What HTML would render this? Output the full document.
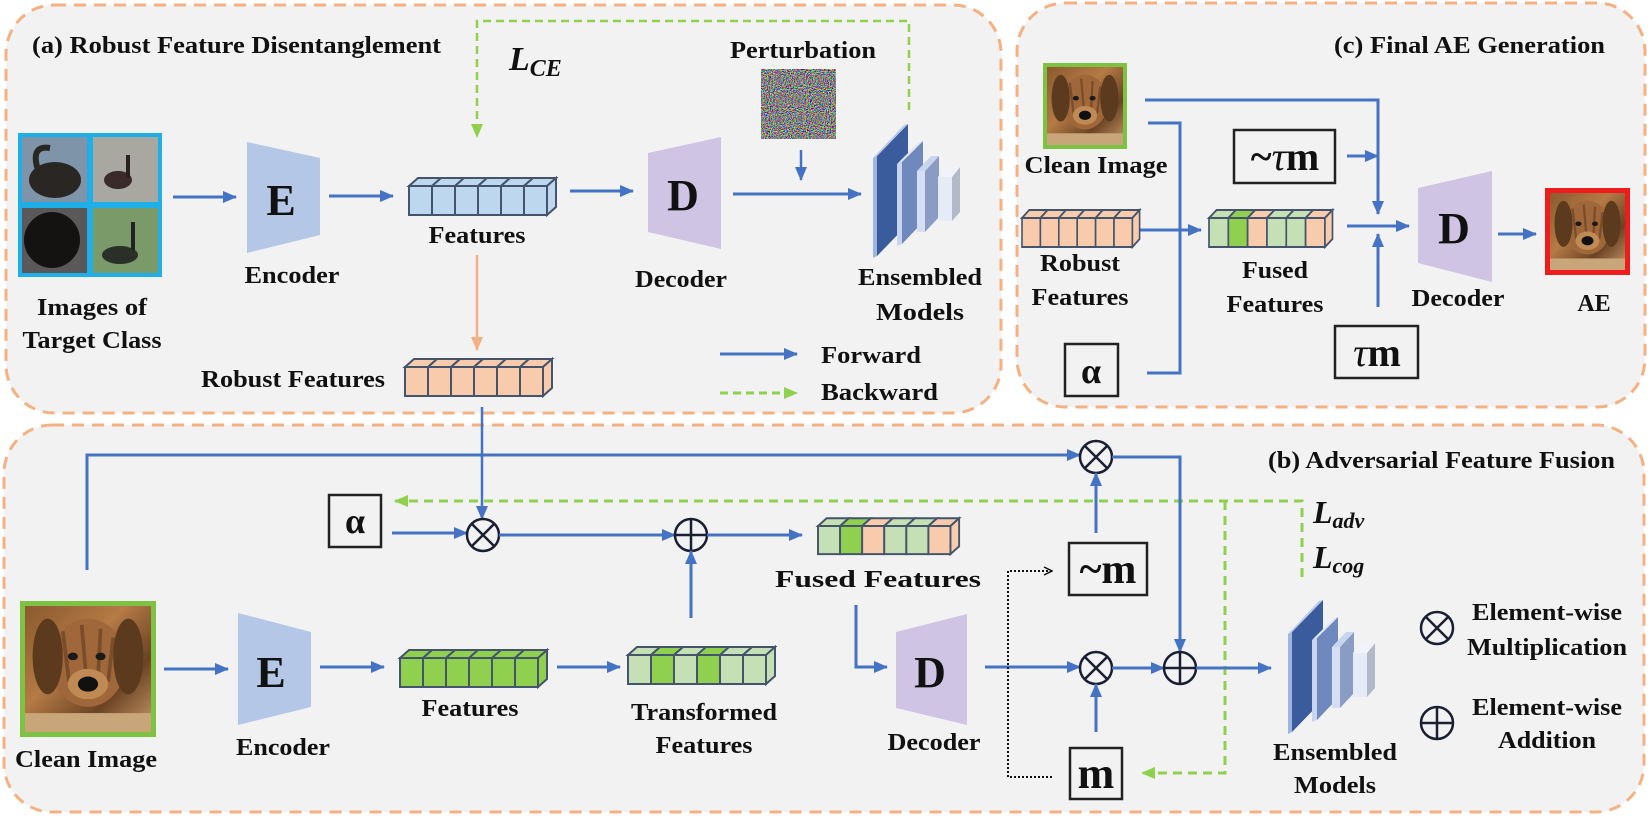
<!DOCTYPE html>
<html><head><meta charset="utf-8"><style>
html,body{margin:0;padding:0;background:#fff;}
svg{display:block;}
text{font-family:"Liberation Serif","Times New Roman",serif;font-weight:bold;fill:#111;}
</style></head><body>
<svg width="1651" height="818" viewBox="0 0 1651 818" xmlns="http://www.w3.org/2000/svg">
<defs>
<marker id="ab" markerUnits="userSpaceOnUse" markerWidth="14" markerHeight="12" refX="13" refY="6" orient="auto"><path d="M0,0 L14,6 L0,12 z" fill="#4472c4"/></marker>
<marker id="ag" markerUnits="userSpaceOnUse" markerWidth="14" markerHeight="12" refX="13" refY="6" orient="auto"><path d="M0,0 L14,6 L0,12 z" fill="#8fd14f"/></marker>
<marker id="ap" markerUnits="userSpaceOnUse" markerWidth="14" markerHeight="12" refX="13" refY="6" orient="auto"><path d="M0,0 L14,6 L0,12 z" fill="#f4b183"/></marker>
<marker id="ak" markerUnits="userSpaceOnUse" markerWidth="10" markerHeight="10" refX="9" refY="5" orient="auto"><path d="M1,1 L9,5 L1,9" fill="none" stroke="#111" stroke-width="1.5"/></marker>
<g id="cell" stroke="#44546a" stroke-width="2"><rect x="0" y="0" width="23" height="29"/><polygon points="0,0 9,-8 32,-8 23,0"/></g>
<polygon id="side" points="0,0 9,-8 9,21 0,29" stroke="#44546a" stroke-width="2"/>
<g id="models">
<polygon points="1292,632 1323,600 1323,700 1292,732" fill="#3b5c9c"/>
<polygon points="1288,634 1292,632 1292,732 1288,734" fill="#9fb4de"/>
<polygon points="1288,634 1319,601 1323,600 1292,632" fill="#b9c9ea"/>
<polygon points="1317,638 1338,617 1338,698 1317,720" fill="#6f88bd"/>
<polygon points="1312,640 1317,638 1317,720 1312,722" fill="#c9d5ee"/>
<polygon points="1312,640 1333,619 1338,617 1317,638" fill="#dfe6f5"/>
<rect x="1332" y="647" width="8" height="61" fill="#d5def2"/>
<polygon points="1340,647 1354,632 1354,693 1340,708" fill="#8a9cc4"/>
<polygon points="1332,647 1346,632 1354,632 1340,647" fill="#c9d5ee"/>
<rect x="1353" y="653" width="14" height="44" fill="#e6ecf7"/>
<polygon points="1367,653 1375,643 1375,688 1367,697" fill="#b2bac9"/>
<polygon points="1353,653 1361,643 1375,643 1367,653" fill="#f0f3fa"/>
</g>
<g id="otimes"><circle r="16" fill="none" stroke="#1b1f33" stroke-width="2.5"/><path d="M-11.3,-11.3 L11.3,11.3 M11.3,-11.3 L-11.3,11.3" stroke="#1b1f33" stroke-width="2.5"/></g>
<g id="oplus"><circle r="16" fill="none" stroke="#1b1f33" stroke-width="2.5"/><path d="M-16,0 H16 M0,-16 V16" stroke="#1b1f33" stroke-width="2.5"/></g>
<linearGradient id="dog" x1="0" y1="0" x2="1" y2="1"><stop offset="0" stop-color="#8a5a2e"/><stop offset="0.4" stop-color="#b57a45"/><stop offset="0.7" stop-color="#6b4324"/><stop offset="1" stop-color="#c79a6a"/></linearGradient>
<g id="dogimg">
<rect x="0" y="0" width="100" height="100" fill="url(#dog)"/>
<ellipse cx="50" cy="45" rx="30" ry="35" fill="#a0683a"/>
<ellipse cx="18" cy="40" rx="12" ry="30" fill="#5c3a1e"/>
<ellipse cx="82" cy="40" rx="12" ry="30" fill="#5c3a1e"/>
<path d="M30,20 L35,60 M45,15 L48,50 M60,18 L58,55 M70,25 L66,60" stroke="#6b4324" stroke-width="3" opacity="0.7"/>
<ellipse cx="50" cy="62" rx="16" ry="12" fill="#c08a55"/>
<ellipse cx="38" cy="40" rx="4" ry="3" fill="#1a1a1a"/>
<ellipse cx="60" cy="40" rx="4" ry="3" fill="#1a1a1a"/>
<ellipse cx="50" cy="62" rx="8" ry="6" fill="#111"/>
<rect x="0" y="85" width="100" height="15" fill="#c9a57a"/>
</g>
<filter id="noise" x="0" y="0" width="100%" height="100%"><feTurbulence type="fractalNoise" baseFrequency="0.95" numOctaves="1" seed="3"/><feColorMatrix type="matrix" values="4 -1 -1 0 -0.7  -1 4 -1 0 -0.7  -1 -1 4 0 -0.7  0 0 0 0 1"/></filter>
</defs>

<!-- panels -->
<rect x="6" y="5" width="995" height="408" rx="48" fill="#f2f2f2" stroke="#f4b183" stroke-width="3" stroke-dasharray="12 8"/>
<rect x="1017" y="3" width="628" height="404" rx="48" fill="#f2f2f2" stroke="#f4b183" stroke-width="3" stroke-dasharray="12 8"/>
<rect x="4" y="425" width="1640" height="387" rx="48" fill="#f2f2f2" stroke="#f4b183" stroke-width="3" stroke-dasharray="12 8"/>

<!-- ============ Panel A ============ -->
<text x="32" y="53" font-size="24" textLength="409" lengthAdjust="spacingAndGlyphs">(a) Robust Feature Disentanglement</text>
<text x="509" y="70" font-size="34" font-style="italic" font-weight="normal">L<tspan font-size="24" dy="6">CE</tspan></text>
<path d="M909,110 V21 H477 V137" fill="none" stroke="#8fd14f" stroke-width="2.5" stroke-dasharray="8 5" marker-end="url(#ag)"/>
<text x="730" y="58" font-size="24" textLength="146" lengthAdjust="spacingAndGlyphs">Perturbation</text>
<rect x="761" y="69" width="75" height="70" filter="url(#noise)"/>
<path d="M801,150 V180" stroke="#4472c4" stroke-width="2.5" marker-end="url(#ab)"/>

<!-- swans -->
<rect x="18" y="133" width="144" height="144" fill="#1eaee8"/>
<rect x="22" y="137" width="65" height="65" fill="#7e94a8"/>
<ellipse cx="55" cy="180" rx="26" ry="18" fill="#2a2624"/>
<path d="M38,170 Q30,145 50,148" stroke="#2a2624" stroke-width="6" fill="none"/>
<rect x="93" y="137" width="65" height="65" fill="#a8a8a0"/>
<ellipse cx="118" cy="180" rx="14" ry="9" fill="#3a2a2a"/>
<path d="M128,178 V155" stroke="#2a2020" stroke-width="4"/>
<rect x="22" y="208" width="65" height="65" fill="#5a5858"/>
<ellipse cx="52" cy="240" rx="28" ry="28" fill="#151212"/>
<rect x="93" y="208" width="65" height="65" fill="#7a9a6a"/>
<ellipse cx="120" cy="255" rx="18" ry="9" fill="#2a3028"/>
<path d="M133,250 V222" stroke="#222" stroke-width="4"/>

<path d="M173,197 H236" stroke="#4472c4" stroke-width="3" marker-end="url(#ab)"/>
<polygon points="247,142 320,158 320,235 247,253" fill="#b4c7e7"/>
<text x="281" y="215" font-size="44" text-anchor="middle">E</text>
<text x="292" y="283" font-size="24" text-anchor="middle" textLength="95" lengthAdjust="spacingAndGlyphs">Encoder</text>
<path d="M329,196 H393" stroke="#4472c4" stroke-width="3" marker-end="url(#ab)"/>

<g transform="translate(409,186)" fill="#bdd7ee">
<use href="#cell" x="0"/><use href="#cell" x="23"/><use href="#cell" x="46"/><use href="#cell" x="69"/><use href="#cell" x="92"/><use href="#cell" x="115"/><use href="#side" x="138"/>
</g>
<text x="477" y="243" font-size="24" text-anchor="middle" textLength="97" lengthAdjust="spacingAndGlyphs">Features</text>
<path d="M477,255 V350" stroke="#f4b183" stroke-width="2.5" marker-end="url(#ap)"/>
<path d="M570,191 H633" stroke="#4472c4" stroke-width="3" marker-end="url(#ab)"/>
<polygon points="648,153 721,137 721,249 648,232" fill="#d0c4e4"/>
<text x="683" y="210" font-size="44" text-anchor="middle">D</text>
<text x="681" y="287" font-size="24" text-anchor="middle" textLength="92" lengthAdjust="spacingAndGlyphs">Decoder</text>
<path d="M733,194 H861" stroke="#4472c4" stroke-width="3" marker-end="url(#ab)"/>
<use href="#models" transform="translate(-415,-476)"/>
<text x="920" y="285" font-size="24" text-anchor="middle" textLength="124" lengthAdjust="spacingAndGlyphs">Ensembled</text>
<text x="920" y="320" font-size="24" text-anchor="middle" textLength="88" lengthAdjust="spacingAndGlyphs">Models</text>
<text x="92" y="315" font-size="24" text-anchor="middle" textLength="110" lengthAdjust="spacingAndGlyphs">Images of</text>
<text x="92" y="348" font-size="24" text-anchor="middle" textLength="139" lengthAdjust="spacingAndGlyphs">Target Class</text>
<text x="201" y="387" font-size="24" textLength="184" lengthAdjust="spacingAndGlyphs">Robust Features</text>
<g transform="translate(405,367)" fill="#f8cbad">
<use href="#cell" x="0"/><use href="#cell" x="23"/><use href="#cell" x="46"/><use href="#cell" x="69"/><use href="#cell" x="92"/><use href="#cell" x="115"/><use href="#side" x="138"/>
</g>
<path d="M720,354 H797" stroke="#4472c4" stroke-width="3" marker-end="url(#ab)"/>
<text x="821" y="363" font-size="24" textLength="100" lengthAdjust="spacingAndGlyphs">Forward</text>
<path d="M720,393 H797" stroke="#8fd14f" stroke-width="3" stroke-dasharray="8 5" marker-end="url(#ag)"/>
<text x="821" y="400" font-size="24" textLength="117" lengthAdjust="spacingAndGlyphs">Backward</text>

<!-- ============ Panel C ============ -->
<text x="1334" y="53" font-size="24" textLength="271" lengthAdjust="spacingAndGlyphs">(c) Final AE Generation</text>
<rect x="1043" y="63" width="84" height="86" fill="#7dc242"/>
<use href="#dogimg" transform="translate(1047,67) scale(0.76,0.78)"/>
<text x="1096" y="173" font-size="24" text-anchor="middle" textLength="143" lengthAdjust="spacingAndGlyphs">Clean Image</text>
<path d="M1145,100 H1378 V214" fill="none" stroke="#4472c4" stroke-width="3" marker-end="url(#ab)"/>
<path d="M1148,123 H1180 V373 H1147" fill="none" stroke="#4472c4" stroke-width="3"/>
<path d="M1136,230 H1201" stroke="#4472c4" stroke-width="3" marker-end="url(#ab)"/>
<rect x="1234" y="130" width="101" height="53" fill="none" stroke="#222" stroke-width="2.5"/>
<text x="1285" y="170" font-size="40" text-anchor="middle">~<tspan font-style="italic" font-weight="normal">τ</tspan>m</text>
<path d="M1347,156 H1378" stroke="#4472c4" stroke-width="3" marker-end="url(#ab)"/>
<g transform="translate(1022,218) scale(0.8,1)" fill="#f8cbad">
<use href="#cell" x="0"/><use href="#cell" x="23"/><use href="#cell" x="46"/><use href="#cell" x="69"/><use href="#cell" x="92"/><use href="#cell" x="115"/><use href="#side" x="138"/>
</g>
<text x="1080" y="271" font-size="24" text-anchor="middle" textLength="80" lengthAdjust="spacingAndGlyphs">Robust</text>
<text x="1080" y="305" font-size="24" text-anchor="middle" textLength="97" lengthAdjust="spacingAndGlyphs">Features</text>
<g transform="translate(1209,218) scale(0.84,1)">
<use href="#cell" x="0" fill="#c5e0b4"/><use href="#cell" x="23" fill="#8fd14f"/><use href="#cell" x="46" fill="#f8cbad"/><use href="#cell" x="69" fill="#c5e0b4"/><use href="#cell" x="92" fill="#c5e0b4"/><use href="#cell" x="115" fill="#f8cbad"/><use href="#side" x="138" fill="#f8cbad"/>
</g>
<text x="1275" y="278" font-size="24" text-anchor="middle" textLength="66" lengthAdjust="spacingAndGlyphs">Fused</text>
<text x="1275" y="312" font-size="24" text-anchor="middle" textLength="97" lengthAdjust="spacingAndGlyphs">Features</text>
<path d="M1347,226 H1409" stroke="#4472c4" stroke-width="3" marker-end="url(#ab)"/>
<path d="M1378,307 V234" stroke="#4472c4" stroke-width="3" marker-end="url(#ab)"/>
<polygon points="1418,188 1492,171 1492,282 1418,263" fill="#d0c4e4"/>
<text x="1454" y="243" font-size="44" text-anchor="middle">D</text>
<text x="1458" y="306" font-size="24" text-anchor="middle" textLength="93" lengthAdjust="spacingAndGlyphs">Decoder</text>
<path d="M1498,234 H1536" stroke="#4472c4" stroke-width="3" marker-end="url(#ab)"/>
<rect x="1545" y="188" width="85" height="87" fill="#ee1c1c"/>
<use href="#dogimg" transform="translate(1550,193) scale(0.75,0.77)"/>
<text x="1594" y="311" font-size="24" text-anchor="middle">AE</text>
<rect x="1335" y="326" width="83" height="52" fill="none" stroke="#222" stroke-width="2.5"/>
<text x="1377" y="366" font-size="40" text-anchor="middle"><tspan font-style="italic" font-weight="normal">τ</tspan>m</text>
<rect x="1065" y="344" width="53" height="52" fill="none" stroke="#222" stroke-width="2.5"/>
<text x="1091" y="383" font-size="36" font-weight="normal" text-anchor="middle">α</text>

<!-- ============ Panel B ============ -->
<text x="1268" y="468" font-size="24" textLength="347" lengthAdjust="spacingAndGlyphs">(b) Adversarial Feature Fusion</text>
<path d="M87,570 V455 H1080" fill="none" stroke="#4472c4" stroke-width="3" marker-end="url(#ab)"/>
<path d="M482,407 V519" stroke="#4472c4" stroke-width="2.5" marker-end="url(#ab)"/>
<path d="M1302,577 V501 H395" fill="none" stroke="#8fd14f" stroke-width="3" stroke-dasharray="9 6" marker-end="url(#ag)"/>
<path d="M1225,501 V773 H1142" fill="none" stroke="#8fd14f" stroke-width="3" stroke-dasharray="9 6" marker-end="url(#ag)"/>
<text x="1313" y="523" font-size="32" font-style="italic" font-weight="normal">L<tspan font-size="22" dy="5">adv</tspan></text>
<text x="1313" y="568" font-size="32" font-style="italic" font-weight="normal">L<tspan font-size="22" dy="5">cog</tspan></text>
<rect x="329" y="495" width="52" height="52" fill="none" stroke="#222" stroke-width="2.5"/>
<text x="355" y="533" font-size="36" font-weight="normal" text-anchor="middle">α</text>
<path d="M392,533 H467" stroke="#4472c4" stroke-width="3" marker-end="url(#ab)"/>
<use href="#otimes" x="483" y="535"/>
<path d="M499,535 H675" stroke="#4472c4" stroke-width="3" marker-end="url(#ab)"/>
<use href="#oplus" x="691" y="535"/>
<path d="M707,535 H802" stroke="#4472c4" stroke-width="3" marker-end="url(#ab)"/>
<path d="M691,618 V551" stroke="#4472c4" stroke-width="3" marker-end="url(#ab)"/>

<rect x="20" y="601" width="136" height="136" fill="#7dc242"/>
<use href="#dogimg" transform="translate(25,606) scale(1.26,1.26)"/>
<text x="86" y="767" font-size="24" text-anchor="middle" textLength="142" lengthAdjust="spacingAndGlyphs">Clean Image</text>
<path d="M164,669 H228" stroke="#4472c4" stroke-width="3" marker-end="url(#ab)"/>
<polygon points="238,613 311,632 311,707 238,725" fill="#b4c7e7"/>
<text x="271" y="687" font-size="44" text-anchor="middle">E</text>
<text x="283" y="755" font-size="24" text-anchor="middle" textLength="94" lengthAdjust="spacingAndGlyphs">Encoder</text>
<path d="M320,667 H384" stroke="#4472c4" stroke-width="3" marker-end="url(#ab)"/>
<g transform="translate(400,658)" fill="#8fd14f">
<use href="#cell" x="0"/><use href="#cell" x="23"/><use href="#cell" x="46"/><use href="#cell" x="69"/><use href="#cell" x="92"/><use href="#cell" x="115"/><use href="#side" x="138"/>
</g>
<text x="470" y="716" font-size="24" text-anchor="middle" textLength="97" lengthAdjust="spacingAndGlyphs">Features</text>
<path d="M557,667 H620" stroke="#4472c4" stroke-width="3" marker-end="url(#ab)"/>
<g transform="translate(628,655)">
<use href="#cell" x="0" fill="#c5e0b4"/><use href="#cell" x="23" fill="#8fd14f"/><use href="#cell" x="46" fill="#c5e0b4"/><use href="#cell" x="69" fill="#8fd14f"/><use href="#cell" x="92" fill="#c5e0b4"/><use href="#cell" x="115" fill="#c5e0b4"/><use href="#side" x="138" fill="#c5e0b4"/>
</g>
<text x="704" y="720" font-size="24" text-anchor="middle" textLength="146" lengthAdjust="spacingAndGlyphs">Transformed</text>
<text x="704" y="753" font-size="24" text-anchor="middle" textLength="97" lengthAdjust="spacingAndGlyphs">Features</text>

<g transform="translate(818,526) scale(0.96,0.97)">
<use href="#cell" x="0" fill="#c5e0b4"/><use href="#cell" x="23" fill="#8fd14f"/><use href="#cell" x="46" fill="#f8cbad"/><use href="#cell" x="69" fill="#c5e0b4"/><use href="#cell" x="92" fill="#c5e0b4"/><use href="#cell" x="115" fill="#f8cbad"/><use href="#side" x="138" fill="#f8cbad"/>
</g>
<text x="878" y="587" font-size="24" text-anchor="middle" textLength="206" lengthAdjust="spacingAndGlyphs">Fused Features</text>
<path d="M856,605 V667 H887" fill="none" stroke="#4472c4" stroke-width="3" marker-end="url(#ab)"/>
<polygon points="896,632 967,614 967,725 896,708" fill="#d0c4e4"/>
<text x="930" y="687" font-size="44" text-anchor="middle">D</text>
<text x="934" y="750" font-size="24" text-anchor="middle" textLength="93" lengthAdjust="spacingAndGlyphs">Decoder</text>
<path d="M985,667 H1080" stroke="#4472c4" stroke-width="3" marker-end="url(#ab)"/>
<use href="#otimes" x="1096" y="668"/>
<use href="#otimes" x="1096" y="457"/>
<path d="M1112,457 H1180 V652" fill="none" stroke="#4472c4" stroke-width="3" marker-end="url(#ab)"/>
<path d="M1096,533 V473" stroke="#4472c4" stroke-width="3" marker-end="url(#ab)"/>
<path d="M1096,732 V684" stroke="#4472c4" stroke-width="3" marker-end="url(#ab)"/>
<path d="M1112,668 H1164" stroke="#4472c4" stroke-width="3" marker-end="url(#ab)"/>
<use href="#oplus" x="1180" y="668"/>
<path d="M1196,668 H1271" stroke="#4472c4" stroke-width="3" marker-end="url(#ab)"/>
<path d="M1052,777 H1008 V571 H1052" fill="none" stroke="#111" stroke-width="2" stroke-dasharray="2 2" marker-end="url(#ak)"/>
<rect x="1069" y="543" width="78" height="52" fill="none" stroke="#222" stroke-width="2.5"/>
<text x="1108" y="583" font-size="42" text-anchor="middle">~m</text>
<rect x="1070" y="748" width="52" height="51" fill="none" stroke="#222" stroke-width="2.5"/>
<text x="1096" y="788" font-size="44" text-anchor="middle">m</text>
<use href="#models"/>
<text x="1335" y="760" font-size="24" text-anchor="middle" textLength="124" lengthAdjust="spacingAndGlyphs">Ensembled</text>
<text x="1335" y="793" font-size="24" text-anchor="middle" textLength="82" lengthAdjust="spacingAndGlyphs">Models</text>
<use href="#otimes" x="1437" y="628"/>
<use href="#oplus" x="1437" y="723"/>
<text x="1547" y="620" font-size="24" text-anchor="middle" textLength="150" lengthAdjust="spacingAndGlyphs">Element-wise</text>
<text x="1547" y="655" font-size="24" text-anchor="middle" textLength="160" lengthAdjust="spacingAndGlyphs">Multiplication</text>
<text x="1547" y="715" font-size="24" text-anchor="middle" textLength="150" lengthAdjust="spacingAndGlyphs">Element-wise</text>
<text x="1547" y="748" font-size="24" text-anchor="middle" textLength="98" lengthAdjust="spacingAndGlyphs">Addition</text>
</svg>
</body></html>
